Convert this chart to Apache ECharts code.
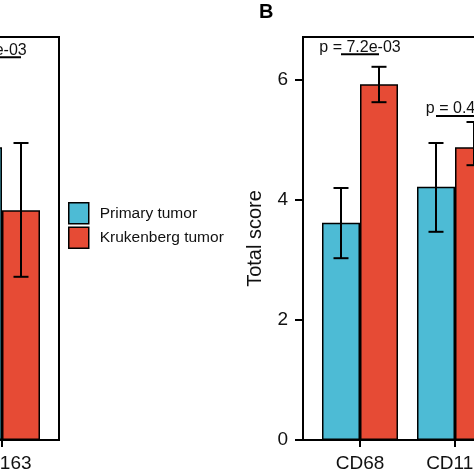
<!DOCTYPE html>
<html>
<head>
<meta charset="utf-8">
<script src="https://cdn.jsdelivr.net/npm/echarts@6/dist/echarts.min.js"></script>
<style>
  html, body { margin: 0; padding: 0; background: #fff; }
  #chart { width: 474px; height: 474px; }
</style>
</head>
<body>
<div id="chart"></div>
<script>
// panel A (only the CD163 group is inside the crop)
var catsA = ['CD163'];
var primaryA = [4.88];
var krukA = [3.83];
var primaryErrA = [null];
var krukErrA = [[2.72, 4.95]];
var pLineA = [6.38];
var pTextA = ['p = 1.3e-03'];

// panel B
var catsB = ['CD68', 'CD11b'];
var primaryB = [3.62, 4.22];
var krukB = [5.93, 4.88];
var primaryErrB = [[3.03, 4.2], [3.47, 4.95]];
var krukErrB = [[5.63, 6.22], [4.58, 5.3]];
var pLineB = [6.43, 5.4];
var pTextB = ['p = 7.2e-03', 'p = 0.45'];

var yTicks = [0, 2, 4, 6];

var BLUE = '#4DBBD5';
var RED = '#E64B35';
var FONT = 'Liberation Sans, Arial, sans-serif';
var BAR_W = 38;
var STEP = 95;           // px per category
var AXIS_Y0 = 440;       // pixel row of y = 0
var PX_PER_UNIT = 60;
var TOP = 37;
var yMax = (AXIS_Y0 - TOP) / PX_PER_UNIT;

var chart = echarts.init(document.getElementById('chart'), null, { renderer: 'canvas' });

function pairs(values) {
    return values.map(function (v, i) { return [i + 1, v]; });
}

function errData(errs) {
    return errs.map(function (e, i) {
        return e ? [i + 1, e[0], e[1]] : [i + 1, null, null];
    });
}

function xAxisFor(gridIndex, cats, showLabel) {
    var ticks = cats.map(function (c, i) { return i + 1; });
    return {
        type: 'value',
        gridIndex: gridIndex,
        min: 0.4,
        max: cats.length + 0.6,
        splitLine: { show: false },
        axisLine: { show: true, lineStyle: { color: '#000', width: 2 } },
        axisTick: { show: true, customValues: ticks, length: 7, lineStyle: { color: '#000', width: 2 } },
        axisLabel: {
            show: showLabel,
            customValues: ticks,
            margin: 14,
            color: '#111',
            fontFamily: FONT,
            fontSize: 19,
            formatter: function (v) { return cats[Math.round(v) - 1]; }
        }
    };
}

function yAxisFor(gridIndex, withName) {
    return {
        type: 'value',
        gridIndex: gridIndex,
        min: 0,
        max: yMax,
        name: withName ? 'Total score' : '',
        nameLocation: 'middle',
        nameGap: 38,
        nameTextStyle: { color: '#111', fontFamily: FONT, fontSize: 20 },
        splitLine: { show: false },
        axisLine: { show: true, lineStyle: { color: '#000', width: 2 } },
        axisTick: { show: true, customValues: yTicks, length: 8, lineStyle: { color: '#000', width: 2 } },
        axisLabel: {
            customValues: yTicks,
            margin: 15,
            color: '#111',
            fontFamily: FONT,
            fontSize: 19
        }
    };
}

function barSeries(name, color, values, axisIndex) {
    return {
        name: name,
        type: 'bar',
        xAxisIndex: axisIndex,
        yAxisIndex: axisIndex,
        barWidth: BAR_W,
        barGap: '0%',
        data: pairs(values),
        itemStyle: { color: color, borderColor: '#000', borderWidth: 1.5 },
        emphasis: { disabled: true }
    };
}

function errSeries(errs, shift, axisIndex) {
    return {
        type: 'custom',
        xAxisIndex: axisIndex,
        yAxisIndex: axisIndex,
        data: errData(errs),
        encode: { x: 0, y: [1, 2] },
        z: 5,
        silent: true,
        renderItem: function (params, api) {
            if (api.value(1) == null || isNaN(api.value(1))) return;
            var lo = api.coord([api.value(0), api.value(1)]);
            var hi = api.coord([api.value(0), api.value(2)]);
            var cx = lo[0] + shift;
            var st = { stroke: '#000', lineWidth: 2 };
            return {
                type: 'group',
                children: [
                    { type: 'line', shape: { x1: cx, y1: lo[1], x2: cx, y2: hi[1] }, style: st },
                    { type: 'line', shape: { x1: cx - 7.5, y1: lo[1], x2: cx + 7.5, y2: lo[1] }, style: st },
                    { type: 'line', shape: { x1: cx - 7.5, y1: hi[1], x2: cx + 7.5, y2: hi[1] }, style: st }
                ]
            };
        }
    };
}

function pSeries(lines, texts, textShift, axisIndex) {
    return {
        type: 'custom',
        xAxisIndex: axisIndex,
        yAxisIndex: axisIndex,
        data: lines.map(function (v, i) { return [i + 1, v]; }),
        encode: { x: 0, y: 1 },
        z: 6,
        silent: true,
        renderItem: function (params, api) {
            var p = api.coord([api.value(0), api.value(1)]);
            return {
                type: 'group',
                children: [
                    {
                        type: 'line',
                        shape: { x1: p[0] - BAR_W / 2, y1: p[1], x2: p[0] + BAR_W / 2, y2: p[1] },
                        style: { stroke: '#000', lineWidth: 2 }
                    },
                    {
                        type: 'text',
                        x: p[0] + textShift,
                        y: p[1] - 7,
                        style: {
                            text: texts[params.dataIndex],
                            fill: '#111',
                            font: '16px ' + FONT,
                            align: 'center',
                            verticalAlign: 'middle'
                        }
                    }
                ]
            };
        }
    };
}

var option = {
    animation: false,
    backgroundColor: '#fff',
    title: {
        text: 'B',
        left: 257,
        top: 0,
        padding: 2,
        textStyle: { color: '#000', fontFamily: FONT, fontWeight: 'bold', fontSize: 20 }
    },
    legend: {
        orient: 'vertical',
        left: 68,
        top: 202,
        padding: 0,
        itemWidth: 20,
        itemHeight: 21,
        itemGap: 2,
        icon: 'rect',
        data: ['Primary tumor', 'Krukenberg tumor'],
        itemStyle: { borderColor: '#000', borderWidth: 1.5 },
        textStyle: { color: '#111', fontFamily: FONT, fontSize: 15.5, padding: [0, 0, 0, 6] }
    },
    grid: [
        {
            left: 59 - (catsA.length + 0.2) * STEP,
            width: (catsA.length + 0.2) * STEP,
            top: TOP,
            bottom: 474 - AXIS_Y0,
            show: true,
            borderColor: '#000',
            borderWidth: 2,
            backgroundColor: 'transparent',
            outerBoundsMode: 'none'
        },
        {
            left: 303,
            width: (catsB.length + 0.2) * STEP,
            top: TOP,
            bottom: 474 - AXIS_Y0,
            show: true,
            borderColor: '#000',
            borderWidth: 2,
            backgroundColor: 'transparent',
            outerBoundsMode: 'none'
        }
    ],
    xAxis: [xAxisFor(0, catsA, true), xAxisFor(1, catsB, true)],
    yAxis: [yAxisFor(0, false), yAxisFor(1, true)],
    series: [
        barSeries('Primary tumor', BLUE, primaryA, 0),
        barSeries('Krukenberg tumor', RED, krukA, 0),
        errSeries(primaryErrA, -BAR_W / 2, 0),
        errSeries(krukErrA, BAR_W / 2, 0),
        pSeries(pLineA, pTextA, -16, 0),
        barSeries('Primary tumor', BLUE, primaryB, 1),
        barSeries('Krukenberg tumor', RED, krukB, 1),
        errSeries(primaryErrB, -BAR_W / 2, 1),
        errSeries(krukErrB, BAR_W / 2, 1),
        pSeries(pLineB, pTextB, 0, 1)
    ]
};

chart.setOption(option);
</script>
</body>
</html>
